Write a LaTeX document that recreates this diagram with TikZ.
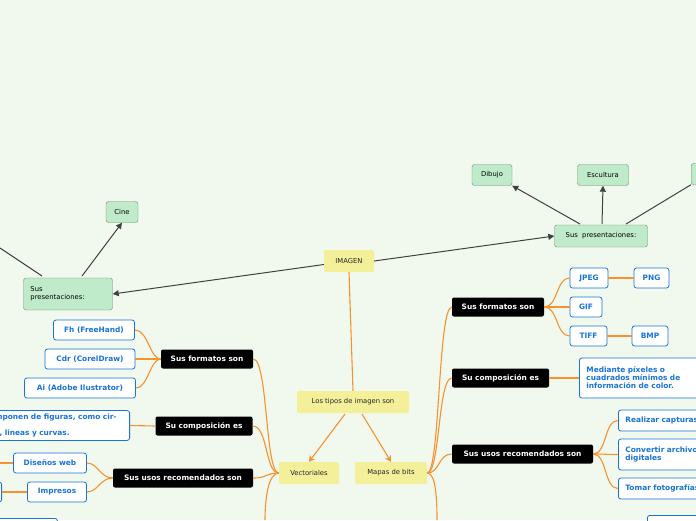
\documentclass[tikz,border=0pt]{standalone}
\usepackage{fontspec}
\setmainfont{DejaVu Sans}
\usetikzlibrary{arrows.meta}
\definecolor{bg}{HTML}{F1F9EE}
\definecolor{yel}{HTML}{F4F09A}
\definecolor{grn}{HTML}{C0EBCB}
\definecolor{grnd}{HTML}{6E8A72}
\definecolor{blu}{HTML}{1874D8}
\definecolor{org}{HTML}{F7922E}
\definecolor{dk}{HTML}{3C4440}
\begin{document}
\begin{tikzpicture}[x=1pt,y=-1pt,
 yel/.style={fill=yel,rounded corners=2pt,minimum height=22pt,inner xsep=8pt,font=\fontsize{6.8}{7.5}\selectfont,text=black!85},
 grn/.style={fill=grn,draw=grnd,rounded corners=2.5pt,minimum height=21pt,inner xsep=7pt,font=\fontsize{6.8}{8}\selectfont},
 blk/.style={fill=black,text=white,rounded corners=2pt,minimum height=19pt,inner xsep=7pt,font=\bfseries\fontsize{7.4}{8}\selectfont},
 blu/.style={fill=white,draw=blu,line width=0.8pt,text=blu,rounded corners=2.5pt,minimum height=20pt,inner xsep=7pt,font=\bfseries\fontsize{7.4}{8}\selectfont,align=left},
 br/.style={draw=org,line width=1.1pt},
 ar/.style={draw=dk,line width=1pt,-{Triangle[length=6pt,width=6pt]}},
 oa/.style={draw=org,line width=1.1pt,-{Stealth[length=6pt,width=7pt]}}]
\clip (0,0) rectangle (696,520);
\fill[bg] (0,0) rectangle (696,520);
% yellow
\node[yel,minimum width=50pt] (img) at (349,261) {IMAGEN};
\node[yel,minimum width=112pt] (tip) at (353,402) {Los tipos de imagen son};
\node[yel,minimum width=60pt] (vec) at (309,473) {Vectoriales};
\node[yel,minimum width=72pt] (map) at (391,473) {Mapas de bits};
% green
\node[grn,minimum width=89pt,minimum height=32pt,align=left,text width=75pt] (spl) at (68,294) {Sus\\presentaciones:};
\node[grn,minimum width=32pt] (cine) at (122,212) {Cine};
\node[grn,minimum width=93pt,minimum height=22pt] (spr) at (601,236) {Sus\ \ presentaciones:};
\node[grn,minimum width=40pt] (dib) at (492,175) {Dibujo};
\node[grn,minimum width=51pt] (esc) at (603,175) {Escultura};
\node[grn,minimum width=40pt,anchor=west] (pin) at (691,174) {Pintura};
\coordinate (offl) at (0,248);
% arrows
\draw[ar] (img) -- (spl.east);
\draw[ar] (img.east) -- (spr.west);
\draw[ar] (82,276) -- (cine.south);
\draw[dk,line width=1pt] (42,276) -- (offl);
\draw[ar] (580,224) -- (dib.south east);
\draw[ar] (602,224) -- (esc.south);
\draw[dk,line width=1pt] (626,224) -- (pin.south west);
\draw[br] (img.south) -- (tip.north);
\draw[oa] (345,414) -- (vec.north);
\draw[oa] (362,414) -- (map.north);
% left black
\node[blk,minimum width=92pt] (lf) at (207,359) {Sus formatos son};
\node[blk,minimum width=97pt] (lc) at (204,426) {Su composición es};
\node[blk,minimum width=140pt] (lu) at (183,478) {Sus usos recomendados son};
\foreach \n in {lf,lc,lu} \draw[br] (vec.west) .. controls (265,473) and (268,0|-\n.east) .. ([xshift=0pt]\n.east) ;
\draw[br] (vec.west) .. controls (268,473) and (265,500) .. (265,520);
% left blue
\node[blu,minimum width=81pt] (fh) at (94,330) {Fh (FreeHand)};
\node[blu,minimum width=90pt] (cdr) at (90,359) {Cdr (CorelDraw)};
\node[blu,minimum width=111pt] (ai) at (80,388) {Ai (Adobe Ilustrator)};
\node[blu,anchor=east,minimum height=29pt,text width=150pt] (cmp) at (130,425.5) {Se componen de figuras, como circulos,\\óvalos, lineas y curvas.};
\node[blu,minimum width=73pt] (dw) at (50,463) {Diseños web};
\node[blu,minimum width=59pt] (imp) at (57,492) {Impresos};
\node[blu,anchor=east,minimum width=40pt] (x1) at (2,492) {Web};
\node[blu,anchor=north west,minimum width=60pt] (x2) at (-3,518) {Otros};
\coordinate (offd) at (0,463);
\foreach \n in {fh,cdr,ai} \draw[br] (lf.west) .. controls (150,359) and (148,0|-\n.east) .. (\n.east);
\draw[br] (lc.west) -- (cmp.east);
\foreach \n in {dw,imp} \draw[br] (lu.west) .. controls (100,478) and (98,0|-\n.east) .. (\n.east);
\draw[br] (dw.west) -- (offd);
\draw[br] (imp.west) -- (x1.east);
% right black
\node[blk,minimum width=92pt] (rf) at (498,307) {Sus formatos son};
\node[blk,minimum width=97pt] (rc) at (500.5,378) {Su composición es};
\node[blk,minimum width=141pt] (ru) at (522.5,454) {Sus usos recomendados son};
\foreach \n in {rf,rc,ru} \draw[br] (map.east) .. controls (440,473) and (438,0|-\n.west) .. (\n.west);
\draw[br] (map.east) .. controls (436,473) and (437,500) .. (437,520);
% right blue
\node[blu,minimum width=38pt] (jp) at (589,278) {JPEG};
\node[blu,minimum width=35pt] (png) at (651.5,278) {PNG};
\node[blu,minimum width=32pt] (gif) at (586,307) {GIF};
\node[blu,minimum width=37pt] (tif) at (588.5,336) {TIFF};
\node[blu,minimum width=36pt] (bmp) at (650,336) {BMP};
\node[blu,anchor=west,minimum height=40pt,text width=120pt] (med) at (579,378) {Mediante píxeles o\\cuadrados mínimos de\\información de color.};
\node[blu,anchor=west,minimum height=21pt,text width=90pt] (rea) at (618,420.5) {Realizar capturas};
\node[blu,anchor=west,minimum height=31pt,text width=90pt] (con) at (618,454.5) {Convertir archivos\\digitales};
\node[blu,anchor=west,minimum height=21pt,text width=90pt] (tom) at (618,488.5) {Tomar fotografías};
\node[blu,anchor=north west,minimum width=60pt] (x3) at (647,515) {Otros};
\foreach \n in {jp,gif,tif} \draw[br] (rf.east) .. controls (558,307) and (556,0|-\n.west) .. (\n.west);
\draw[br] (jp) -- (png); \draw[br] (tif) -- (bmp);
\draw[br] (rc.east) -- (med.west);
\foreach \n in {rea,con,tom} \draw[br] (ru.east) .. controls (607,454) and (604,0|-\n.west) .. (\n.west);
\end{tikzpicture}
\end{document}
